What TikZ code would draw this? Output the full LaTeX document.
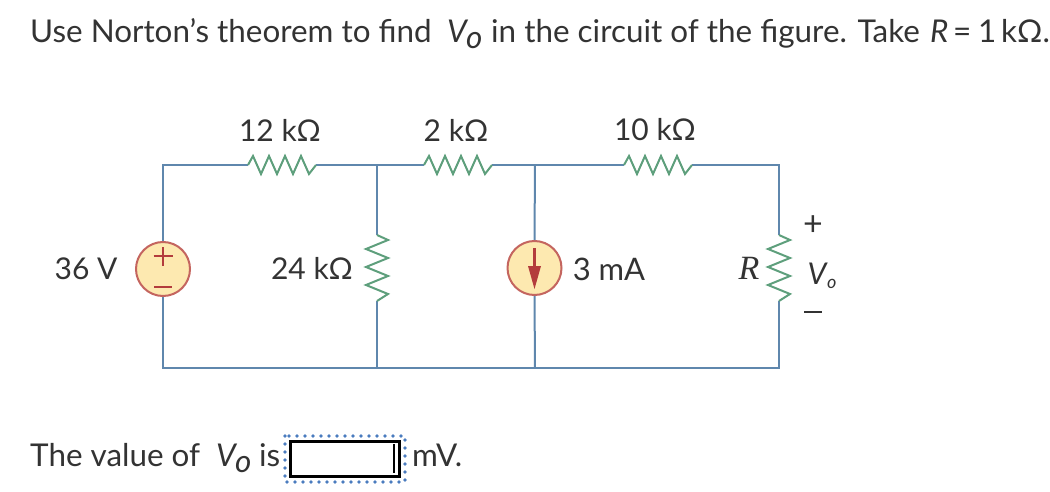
\documentclass[tikz,border=0pt]{standalone}
\usepackage{fontspec}
\setmainfont{Lato}
\newfontfamily\serifit{Liberation Serif}
\usetikzlibrary{arrows.meta}
\definecolor{wirec}{HTML}{5F87AD}
\definecolor{resc}{HTML}{5E9F7C}
\definecolor{srcfill}{HTML}{FDE9B0}
\definecolor{srcline}{HTML}{C4655F}
\definecolor{srcred}{HTML}{B33C3C}
\definecolor{txtc}{HTML}{333333}
\definecolor{dotc}{HTML}{4A7CBF}
\tikzset{
  x=1pt,y=-1pt,
  wire/.style={draw=wirec,line width=2pt},
  resline/.style={draw=resc,line width=2pt,line join=miter},
  src/.style={circle,draw=srcline,fill=srcfill,line width=2pt,minimum size=54pt,inner sep=0pt},
  lab/.style={inner sep=0pt,text=txtc,font=\fontsize{30}{33}\selectfont},
  big/.style={inner sep=0pt,text=txtc,anchor=base west,font=\fontsize{31.4}{36}\selectfont},
  signs/.style={draw=srcred,line width=2.2pt},
  hres/.pic={\draw[resline] (-34,0) -- (-29,-9) -- (-21,9) -- (-13,-9) -- (-5,9) -- (3,-9) -- (11,9) -- (19,-9) -- (27,9) -- (34,0);},
  vres/.pic={\draw[resline] (0,-33) -- (11,-28) -- (-11,-19) -- (11,-10) -- (-11,-1) -- (11,8) -- (-11,17) -- (11,26) -- (0,33);}
}
\begin{document}
\begin{tikzpicture}
\useasboundingbox (0,0) rectangle (1050,492);
% junctions
\coordinate (tl) at (163,165);
\coordinate (t1) at (377,165);
\coordinate (t2) at (535,165);
\coordinate (tr) at (779,165);
\coordinate (bl) at (163,368);
\coordinate (b1) at (377,368);
\coordinate (b2) at (535,368);
\coordinate (br) at (779,368);
\coordinate (r12) at (282,165);
\coordinate (r2) at (458,165);
\coordinate (r10) at (658,165);
\coordinate (r24) at (377,268);
\coordinate (rR) at (779,268);
\coordinate (r12a) at (248,165);
\coordinate (r12b) at (316,165);
\coordinate (r2a) at (424,165);
\coordinate (r2b) at (492,165);
\coordinate (r10a) at (624,165);
\coordinate (r10b) at (692,165);
\coordinate (r24a) at (377,235);
\coordinate (r24b) at (377,301);
\coordinate (rRa) at (779,235);
\coordinate (rRb) at (779,301);
% sources
\node[src] (vs) at (163,269) {};
\node[src] (is) at (534.5,268) {};
% wires
\draw[wire,line join=miter] (vs.north) -- (tl) -- (r12a);
\draw[wire] (r12b) -- (r2a);
\draw[wire] (r2b) -- (r10a);
\draw[wire,line join=miter] (r10b) -- (tr) -- (rRa);
\draw[wire,line join=miter] (rRb) -- (br) -- (bl) -- (vs.south);
\draw[wire] (t1) -- (r24a);
\draw[wire] (r24b) -- (b1);
\draw[wire] (t2) -- (is.north);
\draw[wire] (is.south) -- (b2);
% resistors
\pic at (r12) {hres};
\pic at (r2) {hres};
\pic at (r10) {hres};
\pic at (r24) {vres};
\pic at (rR) {vres};
% source signs
\draw[signs] (163,247) -- (163,266) (153.5,256) -- (172.5,256);
\draw[signs] (154,287) -- (172,287);
\draw[srcred,line width=2.2pt] (534.5,248) -- (534.5,270);
\fill[srcred] (528,266) -- (541,266) -- (534.5,289) -- cycle;
% labels
\node[big] (q) at (30,43) {Use Norton’s theorem to find};
\node[big] (qv) at (447,43) {\itshape V};
\node[big] (qo) at (466,49) {\itshape o};
\node[big] (qr) at (491,43) {in the circuit of the figure. Take};
\node[big] (qR) at (930,43) {\itshape R};
\node[big] (qe) at (953,43) {=};
\node[big] (qn) at (978,43) {1};
\node[big] (qk) at (1001,43) {kΩ.};
\node[lab] (l12) at (280,130) {12 kΩ};
\node[lab] (l2) at (456,130) {2 kΩ};
\node[lab] (l10) at (655,130) {10 kΩ};
\node[lab] (l36) at (86,269) {36 V};
\node[lab] (l24) at (312,268) {24 kΩ};
\node[lab,font=\fontsize{31}{34}\selectfont] (l3) at (609,269) {3 mA};
\node[lab,font=\fontsize{34}{36}\selectfont\serifit\itshape] (lR) at (749,268) {R};
\node[lab,font=\fontsize{34}{36}\selectfont] (lp) at (813,226) {+};
\node[lab] (lV) at (822,276) {\itshape V\kern0.5pt\raisebox{-4pt}{\fontsize{18}{20}\selectfont o}};
\draw[txtc,line width=2pt] (804,312) -- (822,312);
\node[big] (a1) at (30,466) {The value of};
\node[big] (a2) at (216,466) {\itshape V};
\node[big] (a2o) at (235,472) {\itshape o};
\node[big] (a3) at (259,466) {is};
\node[big] (a4) at (412,466) {mV.};
% answer box
\draw[dotc,line width=3.6pt,dash pattern=on 0pt off 8pt,line cap=round] (285,436) rectangle (405,482);
\node[draw=black,line width=2.4pt,minimum width=109pt,minimum height=35pt,inner sep=0pt] (box) at (345,459) {};
\draw[black,line width=2pt] (394,444) -- (394,473);
\end{tikzpicture}
\end{document}
